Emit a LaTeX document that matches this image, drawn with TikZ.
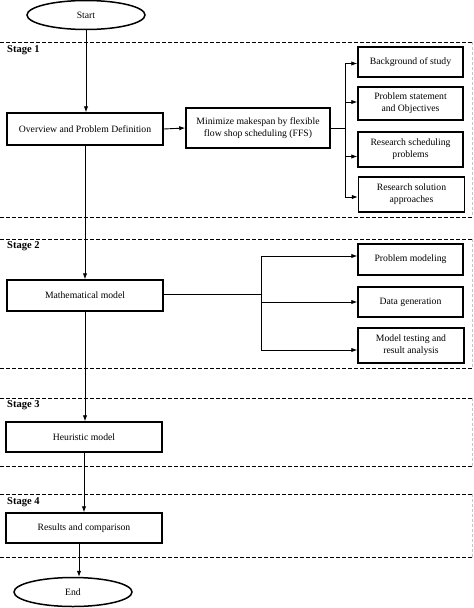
\documentclass[tikz,border=0pt]{standalone}
\usepackage{fontspec}
\setmainfont{Liberation Serif}
\usetikzlibrary{shapes.geometric,arrows.meta}
\begin{document}
\begin{tikzpicture}[x=1pt,y=-1pt,
  box/.style={draw,line width=1.5pt,rectangle,inner sep=1pt,align=center,font=\fontsize{9.7}{12}\selectfont},
  oval/.style={draw,line width=1.5pt,ellipse,minimum width=118pt,minimum height=29pt,inner sep=0pt,font=\fontsize{9.7}{12}\selectfont},
  arr/.style={line width=0.9pt,-{Latex[length=6pt,width=4.5pt]}},
  con/.style={line width=0.9pt},
  band/.style={dash pattern=on 4pt off 2pt,line width=0.9pt},
  bandside/.style={dash pattern=on 3pt off 2pt,line width=0.6pt,gray!45},
  stagelbl/.style={anchor=west,inner sep=0pt,font=\fontsize{10.5}{12}\selectfont\bfseries}]
\useasboundingbox (0,0) rectangle (474,608);
% stage bands
\foreach \t/\b in {42/217,239/368,398/466,494/557}{
  \draw[band] (0,\t) -- (474,\t);
  \draw[band] (0,\b) -- (474,\b);
  \draw[bandside] (472,\t) -- (472,\b);
}
\node[stagelbl] (s1) at (7,50) {Stage 1};
\node[stagelbl] (s2) at (7,246) {Stage 2};
\node[stagelbl] (s3) at (7,405) {Stage 3};
\node[stagelbl] (s4) at (7,502) {Stage 4};
% main column
\node[oval] (start) at (86,15) {Start};
\node[box,minimum width=156pt,minimum height=32pt] (overview) at (85,129) {Overview and Problem Definition};
\node[box,minimum width=144pt,minimum height=40pt] (minimize) at (258,128) {Minimize makespan by flexible\\flow shop scheduling (FFS)};
\node[box,minimum width=105pt,minimum height=30pt] (bg) at (410.5,62) {Background of study};
\node[box,minimum width=105pt,minimum height=33pt] (ps) at (410.5,103.5) {Problem statement\\and Objectives};
\node[box,minimum width=105pt,minimum height=35pt] (rsp) at (410.5,149.5) {Research scheduling\\problems};
\node[box,minimum width=106pt,minimum height=35pt] (rsa) at (411.5,194.5) {Research solution\\approaches};
\node[box,minimum width=156pt,minimum height=31pt] (math) at (85,295.5) {Mathematical model};
\node[box,minimum width=105pt,minimum height=31pt] (pm) at (410.5,259.5) {Problem modeling};
\node[box,minimum width=105pt,minimum height=30pt] (dg) at (410.5,302) {Data generation};
\node[box,minimum width=106pt,minimum height=35pt] (mt) at (411,345.5) {Model testing and\\result analysis};
\node[box,minimum width=156pt,minimum height=30pt] (heur) at (84,437) {Heuristic model};
\node[box,minimum width=156pt,minimum height=30pt] (res) at (84,528) {Results and comparison};
\node[oval] (end) at (73,592) {End};
% trunk connectors
\draw[arr] (start.south) -- (start.south |- overview.north);
\draw[arr] (overview.south) -- (overview.south |- math.north);
\draw[arr] (math.south) -- (math.south |- heur.north);
\draw[arr] (heur.south) -- (heur.south |- res.north);
\draw[arr] ([xshift=-5pt]res.south) -- ([xshift=-5pt]res.south |- end.north);
\draw[arr] (overview.east) -- (minimize.west);
% stage 1 branch
\coordinate (b1) at (345,128);
\draw[con] (minimize.east) -- (b1);
\draw[arr] (b1) |- ([yshift=-1.5pt]bg.west);
\draw[arr] (b1) |- ([yshift=1.5pt]ps.west);
\draw[arr] (b1) |- ([yshift=-7pt]rsp.west);
\draw[arr] (b1) |- ([yshift=-2.5pt]rsa.west);
% stage 2 branch
\coordinate (b2) at (261,294);
\draw[con] (math.east |- b2) -- (b2);
\draw[arr] (b2) |- ([yshift=3.5pt]pm.west);
\draw[arr] (b2) |- (dg.west);
\draw[arr] (b2) |- ([yshift=-4.5pt]mt.west);
\end{tikzpicture}
\end{document}
